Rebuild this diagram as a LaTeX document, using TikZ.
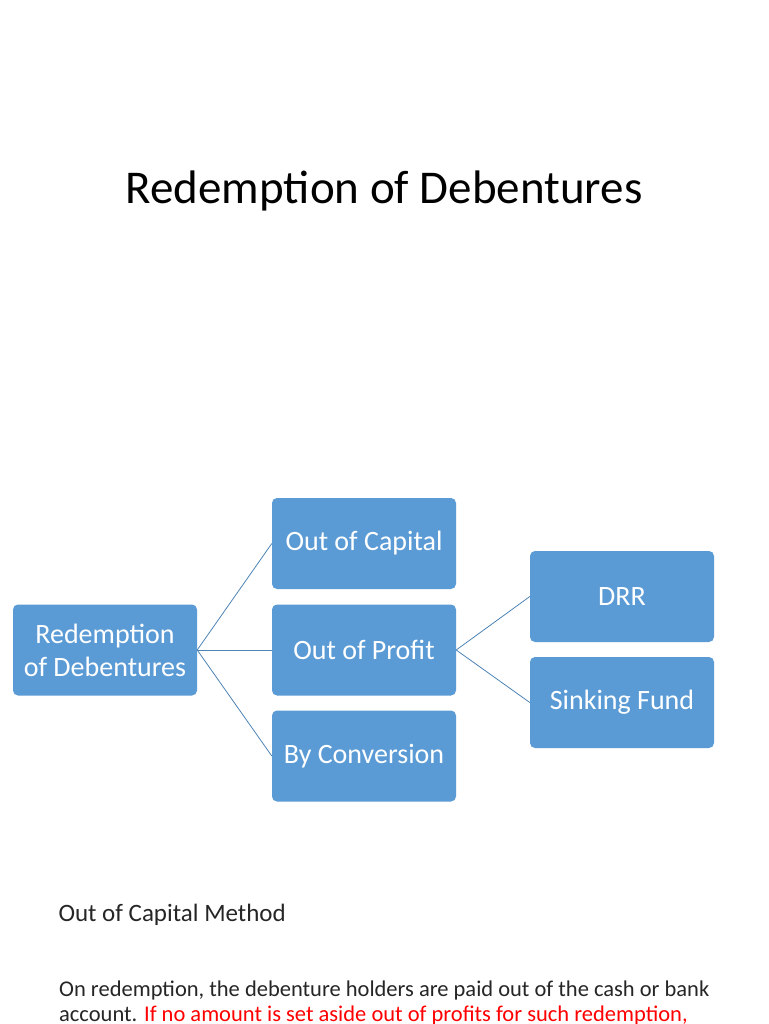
\documentclass[tikz,border=0pt]{standalone}
\usepackage{fontspec}
\setmainfont{Carlito}
\definecolor{boxblue}{HTML}{5B9BD5}
\definecolor{txtred}{HTML}{FF0000}
\begin{document}
\begin{tikzpicture}[x=1pt,y=-1pt,
  bx/.style={fill=boxblue,draw=none,rounded corners=5pt,minimum width=184pt,minimum height=91pt,text=white,font=\fontsize{28}{33}\selectfont,align=center,inner sep=1pt},
  ln/.style={draw=boxblue!85!black,line width=0.8pt}]
\clip (0,0) rectangle (768,1024);
\fill[white] (0,0) rectangle (768,1024);
\node[font=\fontsize{47}{56}\selectfont] (title) at (384,191) {Redemption of Debentures};
\node[bx] (root) at (105,650) {Redemption\\of Debentures};
\node[bx] (cap) at (364,543.5) {Out of Capital};
\node[bx] (prof) at (364,650) {Out of Profit};
\node[bx] (conv) at (364,756) {By Conversion};
\node[bx] (drr) at (622,596.5) {DRR};
\node[bx] (sink) at (622,702.5) {Sinking Fund};
\draw[ln] (root.east) -- (cap.west);
\draw[ln] (root.east) -- (prof.west);
\draw[ln] (root.east) -- (conv.west);
\draw[ln] (prof.east) -- (drr.west);
\draw[ln] (prof.east) -- (sink.west);
\node[anchor=west,font=\fontsize{25}{30}\selectfont,text=black!85] (head) at (55,915) {Out of Capital Method};
\node[anchor=north west,font=\fontsize{22.5}{25}\selectfont,text=black!85,align=left,inner sep=0pt] (para) at (59,981) {On redemption, the debenture holders are paid out of the cash or bank\\account. \textcolor{txtred}{If no amount is set aside out of profits for such redemption,}};
\end{tikzpicture}
\end{document}
